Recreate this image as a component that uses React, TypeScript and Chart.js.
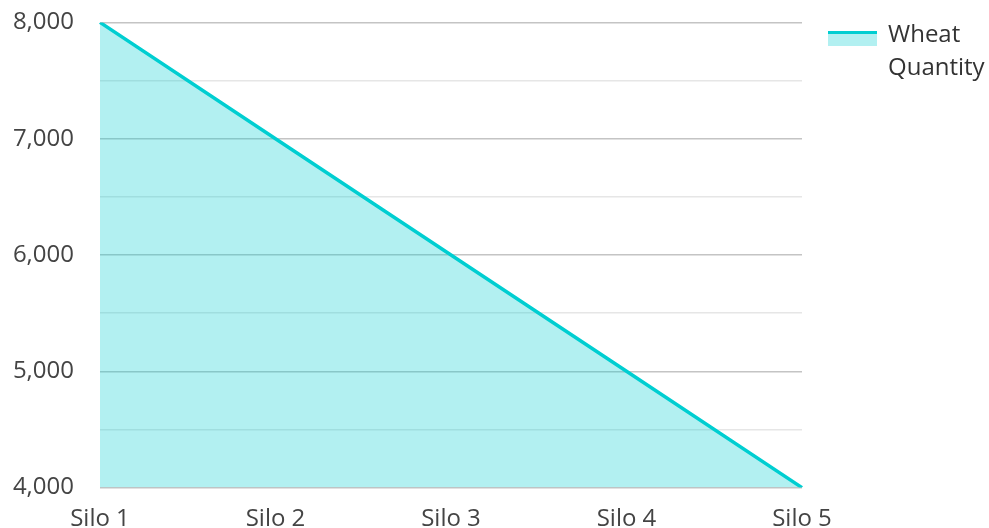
import React, { useEffect, useRef } from "react";
import { Chart, registerables } from "chart.js";

Chart.register(...registerables);

const categories = ["Silo 1", "Silo 2", "Silo 3", "Silo 4", "Silo 5"];
const wheatQuantity = [8000, 7000, 6000, 5000, 4000];
const seriesLabel = ["Wheat", "Quantity"];
const yMin = 4000;
const yMax = 8000;
const yStep = 500;

const LINE = "#00CED1";
const FILL = "rgba(0,206,209,0.3)";
const FONT = "'Open Sans', sans-serif";

export default function App() {
  const ref = useRef<HTMLCanvasElement>(null);
  useEffect(() => {
    if (!ref.current) return;
    const chart = new Chart(ref.current, {
      type: "line",
      data: {
        labels: categories,
        datasets: [
          {
            label: seriesLabel.join(" "),
            data: wheatQuantity,
            borderColor: LINE,
            backgroundColor: FILL,
            borderWidth: 3.5,
            fill: "start",
            tension: 0,
            pointRadius: 0,
            pointHoverRadius: 0,
          },
        ],
      },
      options: {
        animation: false,
        responsive: true,
        maintainAspectRatio: false,
        layout: { padding: { top: 4, right: 187, left: 0, bottom: 0 } },
        plugins: { legend: { display: false }, tooltip: { enabled: false } },
        scales: {
          x: {
            type: "category",
            offset: false,
            grid: { display: false, drawTicks: false },
            border: { display: false },
            ticks: {
              color: "#444",
              font: { family: FONT, size: 24 },
              padding: 17,
              maxRotation: 0,
              autoSkip: false,
            },
            afterFit: (s: any) => {
              s.height = 39;
            },
          },
          y: {
            min: yMin,
            max: yMax,
            border: { display: false },
            grid: {
              drawTicks: false,
              color: (ctx: any) =>
                ctx.tick && ctx.tick.value % 1000 === 0 ? "#c4c4c4" : "#e6e6e6",
              lineWidth: 1.5,
            },
            ticks: {
              stepSize: yStep,
              color: "#444",
              font: { family: FONT, size: 24 },
              padding: 26,
              autoSkip: false,
              callback: (v: any) =>
                Number(v) % 1000 === 0 ? Number(v).toLocaleString("en-US") : "",
            },
            afterFit: (s: any) => {
              s.width = 100;
            },
          },
        },
      },
    });
    return () => chart.destroy();
  }, []);

  return (
    <div style={{ position: "fixed", left: 0, top: 0, width: 989, height: 528, background: "#fff", overflow: "hidden" }}>
      <div style={{ position: "absolute", left: 0, top: -18, width: 989, height: 546 }}>
        <canvas ref={ref} />
      </div>
      <div
        style={{
          position: "absolute",
          left: 828,
          top: 16,
          display: "flex",
          alignItems: "flex-start",
          fontFamily: FONT,
          fontSize: 24,
          lineHeight: "33px",
          color: "#333",
        }}
      >
        <div style={{ width: 49, height: 15, marginTop: 15, background: "rgba(0,206,209,0.3)", borderTop: `3px solid ${LINE}`, boxSizing: "border-box" }} />
        <div style={{ marginLeft: 11 }}>
          {seriesLabel.map((t) => (
            <div key={t}>{t}</div>
          ))}
        </div>
      </div>
    </div>
  );
}
